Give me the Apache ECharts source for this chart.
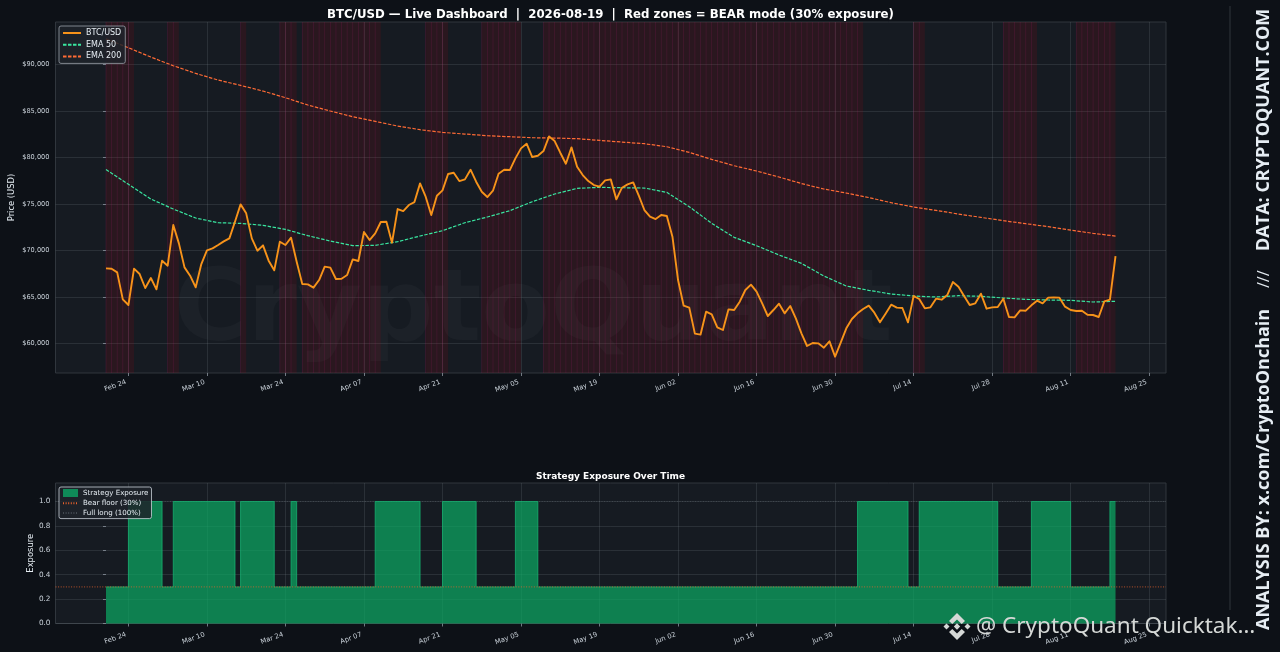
<!DOCTYPE html>
<html><head><meta charset="utf-8">
<style>html,body{margin:0;padding:0;background:#0d1117}#c{width:1280px;height:652px}</style>
<script src="https://cdn.jsdelivr.net/npm/echarts@6/dist/echarts.min.js"></script>
</head><body><div id="c"></div>
<script>
// Day index 0 = Feb 20, 2026; index 180 = Aug 19, 2026
const btcPrice = [68080,68045,67650,64750,64140,68045,67470,65967,67042,65824,68905,68368,72739,70768,68189,67293,66039,68547,70016,70231,70589,70983,71306,73097,74960,73993,71306,69980,70553,68905,67866,70947,70589,71377,68798,66397,66361,66003,66827,68260,68153,66935,66970,67364,69048,68869,71986,71126,71843,73061,73097,70840,74459,74244,74889,75211,77218,75785,73815,75893,76466,78221,78365,77469,77648,78687,77397,76323,75749,76430,78257,78687,78651,79906,80980,81482,80049,80192,80694,82270,81769,80515,79332,81088,79010,78114,77469,77039,76860,77541,77648,75498,76752,77111,77326,75893,74352,73635,73385,73815,73707,71486,66828,64068,63854,61059,60951,63423,63137,61739,61453,63675,63603,64498,65752,66325,65573,64319,62957,63602,64283,63244,64032,62706,61094,59733,60055,60019,59553,60234,58586,60091,61631,62635,63244,63710,64068,63315,62277,63208,64175,63853,63817,62277,65107,64785,63781,63889,64820,64713,65214,66612,66110,65107,64140,64319,65358,63746,63889,63925,64820,62849,62814,63566,63530,64104,64605,64319,64928,64964,64928,63960,63602,63495,63530,63100,63065,62849,64534,64713,69406];
const emaDays = [0,4,8,12,16,20,24,28,32,36,40,44,48,52,56,60,64,68,72,76,80,84,88,92,96,100,104,108,112,116,120,124,128,132,136,140,144,148,152,156,160,164,168,172,176,180];
const ema50 = [78705,77114,75534,74459,73491,72990,72918,72703,72273,71592,71019,70518,70553,70947,71557,72130,72990,73600,74280,75247,76072,76681,76788,76752,76717,76251,74710,72919,71414,70517,69514,68618,67257,66182,65716,65322,65107,65000,65143,65071,64892,64748,64677,64641,64462,64534];
const ema200 = [92760,91802,90799,89867,89043,88327,87753,87145,86428,85640,84995,84385,83884,83382,82988,82700,82521,82342,82234,82127,82091,82020,81840,81661,81482,81160,80550,79798,79117,78544,77900,77200,76609,76179,75695,75139,74674,74315,73921,73563,73205,72882,72560,72201,71843,71556];
const bearStart = [0,11,24,31,35,57,67,78,144,160,173];
const bearEnd   = [5,13,25,34,49,61,74,135,146,166,180];
const exposureDays = [0,4,10,12,23,24,30,33,34,48,56,60,66,73,77,134,143,145,159,165,172,179,180];
const exposureValues = [0.3,1,0.3,1,0.3,1,0.3,1,0.3,1,0.3,1,0.3,1,0.3,1,0.3,1,0.3,1,0.3,1,1];
const dateTicks = [4,18,32,46,60,74,88,102,116,130,144,158,172,186];
const dateLabels = ["Feb 24","Mar 10","Mar 24","Apr 07","Apr 21","May 05","May 19","Jun 02","Jun 16","Jun 30","Jul 14","Jul 28","Aug 11","Aug 25"];
const priceTicks = [60000,65000,70000,75000,80000,85000,90000];
const exposureTicks = [0,0.2,0.4,0.6,0.8,1.0];
const bearFloor = 0.3, fullLong = 1.0;

const bearDays = [];
bearStart.forEach((s,i)=>{for(let d=s;d<bearEnd[i];d++)bearDays.push([d]);});
const F='"DejaVu Sans"';
const gridLine={show:true,lineStyle:{color:'rgba(139,148,158,0.22)',width:0.8}};
function xAxis(gi){return {type:'value',gridIndex:gi,min:-9,max:189,
  axisLine:{show:false},
  axisTick:{length:3,lineStyle:{color:'#8b949e',width:0.8},customValues:dateTicks},
  axisLabel:{customValues:dateTicks,rotate:20,fontSize:6.8,color:'#c9d1d9',fontFamily:F,margin:gi?10:8,padding:[0,2.5,0,0],
    formatter:v=>dateLabels[dateTicks.indexOf(v)]||''},
  splitLine:gridLine};}
function yAxisCommon(){return {axisLine:{show:false},splitLine:gridLine,nameMoveOverlap:false};}
const chart=echarts.init(document.getElementById('c'),null,{renderer:'canvas'});
const ic=[957,626.5];
function poly(points){return {type:'polygon',z:50,shape:{points:points.map(p=>[p[0]+ic[0],p[1]+ic[1]])},style:{fill:'#d5d8d6'}};}
chart.setOption({
  backgroundColor:'#0d1117',animation:false,
  textStyle:{fontFamily:F},
  title:[
    {text:'BTC/USD — Live Dashboard  |  2026-08-19  |  Red zones = BEAR mode (30% exposure)',left:605.5,top:3.5,textAlign:'center',
      textStyle:{color:'#ffffff',fontSize:11.75,fontWeight:'bold',fontFamily:F}},
    {text:'Strategy Exposure Over Time',left:605.5,top:467,textAlign:'center',
      textStyle:{color:'#ffffff',fontSize:9,fontWeight:'bold',fontFamily:F}}
  ],
  grid:[
    {left:55.5,top:22,width:1110.5,height:351,show:true,backgroundColor:'#161b22',borderColor:'#30363d',borderWidth:1,outerBoundsMode:'none'},
    {left:55.5,top:483,width:1110.5,height:140.5,show:true,backgroundColor:'#161b22',borderColor:'#30363d',borderWidth:1,outerBoundsMode:'none'}
  ],
  xAxis:[xAxis(0),xAxis(1)],
  yAxis:[
    Object.assign(yAxisCommon(),{type:'value',gridIndex:0,min:56829,max:94569,
      name:'Price (USD)',nameLocation:'middle',nameGap:40,nameTextStyle:{color:'#e6edf3',fontSize:8.4,fontFamily:F},
      axisTick:{show:true,length:3,lineStyle:{color:'#8b949e',width:0.8},customValues:priceTicks},
      axisLabel:{customValues:priceTicks,fontSize:6.6,color:'#c9d1d9',fontFamily:F,margin:6,formatter:v=>'$'+v.toLocaleString('en-US')}}),
    Object.assign(yAxisCommon(),{type:'value',gridIndex:1,min:0,max:1.152,
      name:'Exposure',nameLocation:'middle',nameGap:21,nameTextStyle:{color:'#e6edf3',fontSize:8.4,fontFamily:F},
      axisTick:{show:true,length:3,lineStyle:{color:'#8b949e',width:0.8},customValues:exposureTicks},
      axisLabel:{customValues:exposureTicks,fontSize:7.3,color:'#c9d1d9',fontFamily:F,margin:5,formatter:v=>v.toFixed(1)}})
  ],
  legend:[
    {left:59,top:26,orient:'vertical',itemGap:3.7,itemWidth:18,itemHeight:8,padding:[3,4,3,3],
      backgroundColor:'rgba(30,35,42,0.85)',borderColor:'#9aa1a9',borderWidth:0.8,borderRadius:2,
      itemStyle:{opacity:0},
      textStyle:{color:'#e6edf3',fontSize:8,fontFamily:F},
      data:['BTC/USD','EMA 50','EMA 200']},
    {left:59,top:487,orient:'vertical',itemGap:2.8,itemWidth:15,itemHeight:8,padding:[2,3,2,3],
      backgroundColor:'rgba(30,35,42,0.85)',borderColor:'#c9d1d9',borderWidth:0.8,borderRadius:2,
      itemStyle:{opacity:0},
      textStyle:{color:'#e6edf3',fontSize:7.1,fontFamily:F},
      data:[{name:'Strategy Exposure',icon:'rect',itemStyle:{opacity:1}},'Bear floor (30%)','Full long (100%)']}
  ],
  series:[
    {type:'custom',name:'Bear zones',xAxisIndex:0,yAxisIndex:0,z:1,silent:true,clip:true,data:bearDays,encode:{x:0},
      renderItem:(params,api)=>{
        const d=api.value(0);const x0=api.coord([d,60000])[0],x1=api.coord([d+1,60000])[0];
        const cs=params.coordSys;
        return {type:'group',children:[
          {type:'rect',shape:{x:x0,y:cs.y,width:x1-x0,height:cs.height},style:{fill:'rgba(190,0,20,0.12)'}},
          {type:'rect',shape:{x:x0-0.35,y:cs.y,width:0.7,height:cs.height},style:{fill:'rgba(190,30,120,0.22)'}}
        ]};
      }},
    {type:'line',name:'EMA 200',xAxisIndex:0,yAxisIndex:0,z:3,showSymbol:false,symbol:'none',
      data:emaDays.map((d,i)=>[d,ema200[i]]),lineStyle:{color:'#ff6b35',width:1.2,type:[3.5,1.5]},itemStyle:{color:'#ff6b35'}},
    {type:'line',name:'EMA 50',xAxisIndex:0,yAxisIndex:0,z:3,showSymbol:false,symbol:'none',
      data:emaDays.map((d,i)=>[d,ema50[i]]),lineStyle:{color:'#39e6a0',width:1.2,type:[3.5,1.5]},itemStyle:{color:'#39e6a0'}},
    {type:'line',name:'BTC/USD',xAxisIndex:0,yAxisIndex:0,z:4,showSymbol:false,symbol:'none',
      data:btcPrice.map((v,i)=>[i,v]),lineStyle:{color:'#f7931a',width:1.9,join:'round'},itemStyle:{color:'#f7931a'}},
    {type:'line',name:'Strategy Exposure',xAxisIndex:1,yAxisIndex:1,z:2,showSymbol:false,symbol:'none',step:'end',
      data:exposureDays.map((d,i)=>[d,exposureValues[i]]),
      lineStyle:{color:'#17b070',width:0.8},areaStyle:{color:'#0bab64',opacity:0.7},itemStyle:{color:'#0f8a58'}},
    {type:'line',name:'Bear floor (30%)',xAxisIndex:1,yAxisIndex:1,z:3,showSymbol:false,symbol:'none',
      data:[[-9,bearFloor],[189,bearFloor]],lineStyle:{color:'#e8622c',width:0.8,type:[1,1.6]},itemStyle:{color:'#e8622c'}},
    {type:'line',name:'Full long (100%)',xAxisIndex:1,yAxisIndex:1,z:1,showSymbol:false,symbol:'none',
      data:[[-9,fullLong],[189,fullLong]],lineStyle:{color:'rgba(139,148,158,0.35)',width:0.8,type:[1,1.6]},itemStyle:{color:'rgba(139,148,158,0.35)'}}
  ],
  graphic:[
    {type:'text',z:0,left:174,top:264,silent:true,style:{text:'CryptoQuant',font:'bold 100px "DejaVu Sans"',fill:'rgba(255,255,255,0.026)'}},
    {type:'line',z:5,shape:{x1:1230,y1:6,x2:1230,y2:610},style:{stroke:'#30363d',lineWidth:1}},
    {type:'text',z:50,x:1264,y:630,rotation:Math.PI/2,style:{text:'ANALYSIS BY: x.com/CryptoOnchain',font:'bold 18px "Open Sans"',fill:'#e6edf3',align:'left',verticalAlign:'middle'}},
    {type:'text',z:50,x:1264,y:288,rotation:Math.PI/2,style:{text:'///',font:'16px "Open Sans"',fill:'#e6edf3',align:'left',verticalAlign:'middle'}},
    {type:'text',z:50,x:1264,y:251,rotation:Math.PI/2,style:{text:'DATA: CRYPTOQUANT.COM',font:'bold 18px "Open Sans"',fill:'#e6edf3',align:'left',verticalAlign:'middle'}},
    {type:'text',z:50,x:976,y:627,style:{text:'@ CryptoQuant Quicktak…',font:'22.5px "Noto Sans"',fill:'#d5d8d6',align:'left',verticalAlign:'middle'}},
    poly([[0,-13.5],[8,-5.5],[4.7,-2.4],[0,-7.1],[-4.7,-2.4],[-8,-5.5]]),
    poly([[0,13.5],[8,5.5],[4.7,2.4],[0,7.1],[-4.7,2.4],[-8,5.5]]),
    poly([[-10.5,-3],[-7.5,0],[-10.5,3],[-13.5,0]]),
    poly([[10.5,-3],[13.5,0],[10.5,3],[7.5,0]]),
    poly([[0,-3.2],[3.2,0],[0,3.2],[-3.2,0]])
  ]
});
</script></body></html>
